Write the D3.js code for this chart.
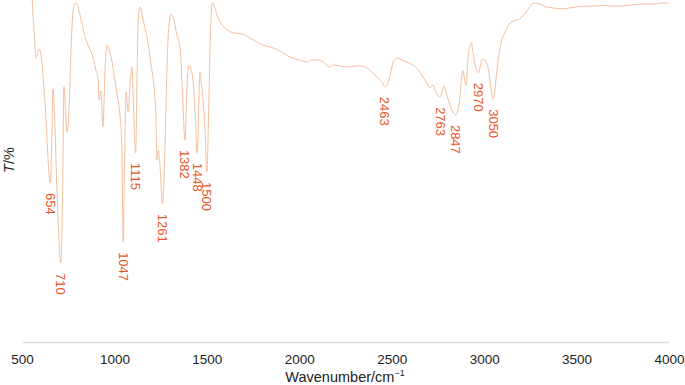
<!DOCTYPE html>
<html>
<head>
<meta charset="utf-8">
<script src="https://cdn.jsdelivr.net/npm/d3@7"></script>
<style>
  body { margin: 0; background: #fff; }
  svg { display: block; font-family: "Liberation Sans", Arial, sans-serif; }
</style>
</head>
<body>
<svg id="ir" width="685" height="385"></svg>
<script>
const width = 685, height = 385;
const svg = d3.select("#ir");

// spectrum (wavenumber in cm-1, transmittance in %)
const wavenumbers = [
  555, 565, 576, 592, 603, 614, 630, 641, 654, 660, 668, 679, 689, 700, 710, 719, 727, 735, 743, 754,
  765, 776, 787, 797, 814, 841, 868, 884, 900, 911, 917, 922, 927, 938, 949, 960, 971, 987, 1003, 1019,
  1030, 1041, 1047, 1055, 1063, 1068, 1074, 1084, 1095, 1100, 1115, 1122, 1129, 1138, 1155, 1182, 1198, 1214, 1225, 1230,
  1238, 1246, 1261, 1273, 1284, 1295, 1306, 1322, 1338, 1355, 1365, 1382, 1392, 1403, 1414, 1425, 1436, 1448, 1463, 1471,
  1479, 1490, 1500, 1511, 1520, 1528, 1539, 1555, 1582, 1614, 1641, 1690, 1722, 1771, 1804, 1841, 1896, 1950, 1993, 2042,
  2069, 2096, 2128, 2166, 2182, 2220, 2274, 2307, 2339, 2366, 2393, 2420, 2447, 2463, 2485, 2507, 2528, 2545, 2582, 2615,
  2636, 2669, 2691, 2707, 2723, 2739, 2763, 2772, 2783, 2793, 2810, 2826, 2847, 2858, 2869, 2880, 2885, 2893, 2902, 2912,
  2923, 2931, 2939, 2956, 2970, 2977, 2988, 2999, 3010, 3021, 3031, 3042, 3050, 3058, 3069, 3085, 3096, 3112, 3140, 3161,
  3183, 3204, 3232, 3253, 3275, 3302, 3334, 3372, 3426, 3464, 3502, 3539, 3572, 3610, 3643, 3691, 3734, 3788, 3843, 3913,
  3962, 3999
];
const transmittance = [
  100, 91.2, 83.0, 85.7, 83.9, 77.5, 64.9, 53.2, 46.5, 56, 74.0, 62, 44.4, 29.8, 23.1, 41.5, 74.6, 67.8, 61.4, 67.8,
  85.4, 96.5, 99.1, 98.8, 95.6, 89.2, 85.4, 83.3, 79.5, 77.5, 70.8, 72.2, 73.4, 62.9, 79.5, 86.8, 85.4, 81.9, 76.6, 70.8,
  66.4, 56.1, 29.2, 53, 73.1, 70.8, 67.3, 75.1, 80.4, 73.7, 55.3, 76.6, 94.2, 98, 94.2, 87.4, 81, 74.6, 64.9, 53.2,
  56.1, 51.8, 40.4, 56.1, 79.5, 92.7, 95.9, 94.2, 89.8, 86.3, 76.6, 59.1, 73.7, 81, 79.5, 76.6, 67.8, 55.3, 78.9, 75.1,
  71.3, 62, 49.7, 70.8, 91.2, 99.1, 98.2, 95.6, 92.7, 91.2, 90.4, 90.1, 89.2, 87.7, 86.8, 86.3, 85.1, 83.3, 82.5, 81.9,
  82.5, 82.5, 81.9, 80.4, 81, 80.7, 80.4, 80.7, 80.7, 80.1, 78.9, 77.5, 76, 74.6, 76.6, 81.6, 83, 82.7, 81.9, 81,
  80.1, 77.5, 75.7, 74.3, 75.1, 73.1, 71.6, 73.1, 74.9, 73.1, 70.2, 67.8, 66.4, 67.8, 71.6, 78.1, 79.5, 77.2, 75.1, 82.5,
  86.8, 87.4, 84.8, 80.1, 78.7, 80.1, 82.5, 82.7, 81.9, 80.4, 76.6, 72.2, 71, 73.7, 79.5, 85.4, 88.3, 90.4, 93.3, 93.9,
  94.2, 95, 96.8, 98.5, 99.1, 98.8, 98, 97.7, 97.4, 97.7, 98, 98.2, 98.2, 98.2, 98.5, 98.2, 98.2, 98.5, 98.8, 98.8,
  99.1, 99.1
];

// labelled bands
const peaks = [654, 710, 1047, 1115, 1261, 1382, 1448, 1500, 2463, 2763, 2847, 2970, 3050];
const xTicks = [500, 1000, 1500, 2000, 2500, 3000, 3500, 4000];

const spectrum = wavenumbers.map((w, i) => ({ w: w, t: transmittance[i] }));

const x = d3.scaleLinear().domain([500, 4000]).range([22, 669]);
const y = d3.scaleLinear().domain([0, 100]).range([342, 0]);

// curve
const line = d3.line()
  .x(d => x(d.w))
  .y(d => y(d.t))
  .curve(d3.curveMonotoneX);

svg.append("path")
  .datum(spectrum)
  .attr("d", line)
  .attr("fill", "none")
  .attr("stroke", "#f5bf9e")
  .attr("stroke-width", 1);

// x axis, just a pale baseline + labels
const xAxis = d3.axisBottom(x).tickValues(xTicks).tickSize(0).tickPadding(12).tickFormat(d3.format("d"));
const gx = svg.append("g").attr("transform", `translate(0,${y(0)})`).call(xAxis);
gx.select(".domain").attr("stroke", "#dcdcdc").attr("stroke-width", 1.5);
gx.selectAll("text").attr("font-size", 13.5).attr("fill", "#222")
  .attr("font-family", "'Liberation Sans', Arial, sans-serif");

svg.append("text")
  .attr("x", 345).attr("y", 382)
  .attr("text-anchor", "middle")
  .attr("font-size", 14.5).attr("fill", "#222")
  .html('Wavenumber/cm<tspan font-size="9" dy="-6">\u22121</tspan>');

svg.append("text")
  .attr("transform", "translate(14,160) rotate(-90)")
  .attr("text-anchor", "middle")
  .attr("font-size", 14.5).attr("fill", "#222")
  .html('<tspan font-style="italic">T</tspan>/%');

// peak labels, hung just under each dip
const tAt = w => spectrum.find(d => d.w === w).t;
svg.append("g").selectAll("text")
  .data(peaks)
  .join("text")
    .attr("transform", d => `translate(${x(d)},${y(tAt(d)) + 10}) rotate(90)`)
    .attr("dy", "0.35em")
    .attr("font-size", 13)
    .attr("fill", "#e9562a")
    .text(d => d);
</script>
</body>
</html>
